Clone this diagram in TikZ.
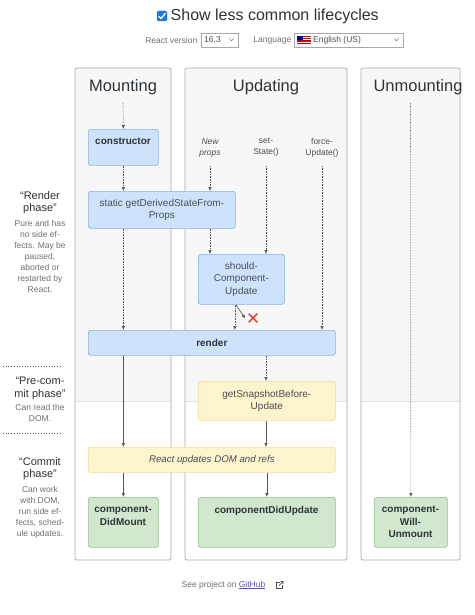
\documentclass[tikz,border=0pt]{standalone}
\usepackage{fontspec}
\setmainfont{Liberation Sans}
\usetikzlibrary{arrows.meta,shapes.misc}
\definecolor{panelfill}{HTML}{F7F7F7}
\definecolor{panelline}{HTML}{A8A8A8}
\definecolor{panelsep}{HTML}{E2E2E2}
\definecolor{bluefill}{HTML}{CFE2FC}
\definecolor{blueline}{HTML}{86B1E6}
\definecolor{yelfill}{HTML}{FDF3CD}
\definecolor{yelline}{HTML}{EEDD9A}
\definecolor{grnfill}{HTML}{D2E8CE}
\definecolor{grnline}{HTML}{93BF8C}
\definecolor{txtdark}{HTML}{2E3338}
\definecolor{txtmid}{HTML}{4A4F55}
\definecolor{txtlight}{HTML}{707070}
\definecolor{arrowc}{HTML}{555555}
\definecolor{linkc}{HTML}{5A4FCF}
\definecolor{cbblue}{HTML}{1E78E0}
\definecolor{xred}{HTML}{E2463C}
\begin{document}
\begin{tikzpicture}[x=1pt,y=-1pt,
  box/.style={draw, rounded corners=2.5pt, line width=0.7pt, anchor=north west, inner sep=0pt, align=center,
    font=\fontsize{10}{12.6}\selectfont, text=txtmid},
  bluebox/.style={box, fill=bluefill, draw=blueline},
  yelbox/.style={box, fill=yelfill, draw=yelline},
  grnbox/.style={box, fill=grnfill, draw=grnline},
  boldtxt/.style={font=\fontsize{10}{12.6}\selectfont\bfseries, text=txtdark, align=center, anchor=north, inner sep=0pt},
  coltitle/.style={font=\fontsize{16.5}{18}\selectfont, text=txtdark},
  trig/.style={font=\fontsize{8.5}{11}\selectfont, text=txtmid, align=center},
  dotarrow/.style={draw=arrowc, line width=0.6pt, densely dotted, -{Latex[length=4pt,width=3.5pt]}},
  solidarrow/.style={draw=arrowc, line width=0.6pt, -{Latex[length=4pt,width=3.5pt]}},
  phasetitle/.style={font=\fontsize{11}{12.5}\selectfont, text=txtdark, align=center},
  phasedesc/.style={font=\fontsize{8.5}{11}\selectfont, text=txtlight, align=center},
  sepdots/.style={draw=txtmid, line width=0.7pt, dotted},
  selectbox/.style={draw=panelline, line width=0.6pt, fill=white},
  small/.style={font=\fontsize{8.5}{10}\selectfont, text=txtlight}
]
\useasboundingbox (0,0) rectangle (474,615);
\fill[white] (0,0) rectangle (474,615);

% ---------- header ----------
\node[draw=cbblue, fill=cbblue, rounded corners=1.5pt, minimum size=10pt, inner sep=0pt] (checkbox) at (162,16) {};
\draw[white, line width=1.3pt, line cap=round, line join=round] (158.8,16.3) -- (161,18.6) -- (165.3,13.3);
\node[anchor=west, inner sep=0pt, font=\fontsize{16}{18}\selectfont, text=txtdark] (headline) at (170.5,16.5) {Show less common lifecycles};

\node[small, anchor=east, inner sep=0pt] (rvlabel) at (197.5,40) {React version};
\draw[selectbox] (201,33) rectangle (238,47);
\node[small, anchor=west, inner sep=0pt, text=txtmid] (rv) at (204,40) {16.3};
\draw[txtlight, line width=0.5pt] (229.5,38.5) -- (231.5,40.8) -- (233.5,38.5);
\node[small, anchor=east, inner sep=0pt] (langlabel) at (291.5,40) {Language};
\draw[selectbox] (294,33) rectangle (403,47);
% flag
\fill[red!75!black] (297,36) rectangle (311,45);
\foreach \k in {1,3,5,7}{\fill[white] (297,36+\k*1.125) rectangle (311,36+\k*1.125+1.125);}
\fill[blue!60!black] (297,36) rectangle (303,40.5);
\node[small, anchor=west, inner sep=0pt, text=txtmid] (lang) at (313,40) {English (US)};
\draw[txtlight, line width=0.5pt] (394.5,38.5) -- (396.5,40.8) -- (398.5,38.5);

% ---------- panels ----------
\fill[panelfill] (75,68) rectangle (171,401);
\fill[panelfill] (185,68) rectangle (347,401);
\fill[panelfill] (361,68) rectangle (460,401);
\draw[panelsep, line width=0.6pt] (75,401) -- (171,401) (185,401) -- (347,401) (361,401) -- (460,401);
\draw[panelline, line width=0.7pt, rounded corners=2pt] (75,68) rectangle (171,560);
\draw[panelline, line width=0.7pt, rounded corners=2pt] (185,68) rectangle (347,560);
\draw[panelline, line width=0.7pt, rounded corners=2pt] (361,68) rectangle (460,560);
\node[coltitle] (tmount) at (123,87) {Mounting};
\node[coltitle] (tupdate) at (266,87) {Updating};
\node[coltitle] (tunmount) at (418,87) {Unmounting};

% ---------- phase labels ----------
\node[phasetitle] (prender) at (40,202.5) {“Render\\phase”};
\node[phasedesc] (drender) at (40,256) {Pure and has\\no side ef-\\fects. May be\\paused,\\aborted or\\restarted by\\React.};
\draw[sepdots] (3,366) -- (62,366);
\node[phasetitle] (pprecommit) at (40,388.5) {“Pre-com-\\mit phase”};
\node[phasedesc] (dprecommit) at (40,413) {Can read the\\DOM.};
\draw[sepdots] (3,433) -- (62,433);
\node[phasetitle] (pcommit) at (40,468.5) {“Commit\\phase”};
\node[phasedesc] (dcommit) at (40,512) {Can work\\with DOM,\\run side ef-\\fects, sched-\\ule updates.};

% ---------- boxes ----------
\node[bluebox, minimum width=70pt, minimum height=36pt] (constructor) at (88,129) {};
\node[boldtxt] (constructortxt) at (123,138) {constructor};
\node[bluebox, minimum width=147pt, minimum height=37pt] (gdsfp) at (88,191) {static getDerivedStateFrom-\\Props};
\node[bluebox, minimum width=86pt, minimum height=50pt] (scu) at (198,254) {should-\\Component-\\Update};
\node[bluebox, minimum width=247pt, minimum height=25pt, font=\fontsize{10}{12.6}\selectfont\bfseries, text=txtdark] (render) at (88,330) {render};
\node[yelbox, minimum width=137pt, minimum height=39pt] (snap) at (198,381) {getSnapshotBefore-\\Update};
\node[yelbox, minimum width=247pt, minimum height=25pt, font=\fontsize{9.7}{12}\selectfont\itshape] (reactdom) at (88,447) {React updates DOM and refs};
\node[grnbox, minimum width=70pt, minimum height=50pt] (cdm) at (88,497) {};
\node[boldtxt] (cdmtxt) at (123,506) {component-\\DidMount};
\node[grnbox, minimum width=137pt, minimum height=50pt] (cdu) at (198,497) {};
\node[boldtxt] (cdutxt) at (266.5,506) {componentDidUpdate};
\node[grnbox, minimum width=73pt, minimum height=50pt] (cwu) at (374,497) {};
\node[boldtxt] (cwutxt) at (410.5,506) {component-\\Will-\\Unmount};

% ---------- triggers ----------
\node[trig, font=\fontsize{8.5}{11}\selectfont\itshape] (newprops) at (210,147.5) {New\\props};
\node[trig] (setstate) at (266,147.5) {set-\\State()};
\node[trig] (forceupdate) at (322,147.5) {force-\\Update()};
\coordinate (npstart) at (210,166);
\coordinate (ssstart) at (266,166);
\coordinate (fustart) at (322,166);
\coordinate (mstart) at (123,103);
\coordinate (ustart) at (410.5,103);

% ---------- connectors ----------
\draw[dotarrow] (mstart) -- (constructor.north);
\draw[dotarrow] (constructor.south) -- (constructor.south |- gdsfp.north);
\draw[dotarrow] (gdsfp.south -| constructor.south) -- (render.north -| constructor.south);
\draw[dotarrow] (npstart) -- (npstart |- gdsfp.north);
\draw[dotarrow] (gdsfp.south -| npstart) -- (scu.north -| npstart);
\draw[dotarrow] (ssstart) -- (ssstart |- scu.north);
\draw[dotarrow] (fustart) -- (fustart |- render.north);
\draw[dotarrow] ([xshift=-6.5pt]scu.south) -- ([xshift=-6.5pt]scu.south |- render.north);
\node[cross out, draw=xred, line width=1.5pt, minimum size=7pt, inner sep=0pt] (nox) at (253,318) {};
\draw[solidarrow] ([xshift=-5.5pt]scu.south) -- ([xshift=-3.5pt,yshift=-0.5pt]nox.west);
\draw[dotarrow] (render.south -| ssstart) -- (snap.north -| ssstart);
\draw[solidarrow] (render.south -| constructor.south) -- (reactdom.north -| constructor.south);
\draw[solidarrow] (snap.south -| ssstart) -- (reactdom.north -| ssstart);
\draw[solidarrow] (reactdom.south -| cdm.north) -- (cdm.north);
\draw[solidarrow] (reactdom.south -| cdu.north) -- (cdu.north);
\draw[dotarrow] (ustart) -- (cwu.north);

% ---------- footer ----------
\node[small, anchor=west, inner sep=0pt] (footer) at (181.5,585) {See project on \textcolor{linkc}{\underline{GitHub}}};
\draw[txtmid, line width=0.7pt] (279.5,582) -- (276,582) -- (276,588.5) -- (282.5,588.5) -- (282.5,585);
\draw[txtmid, line width=0.7pt] (279,585.5) -- (283,581.5) (280.5,581.5) -- (283,581.5) -- (283,584);
\end{tikzpicture}
\end{document}
